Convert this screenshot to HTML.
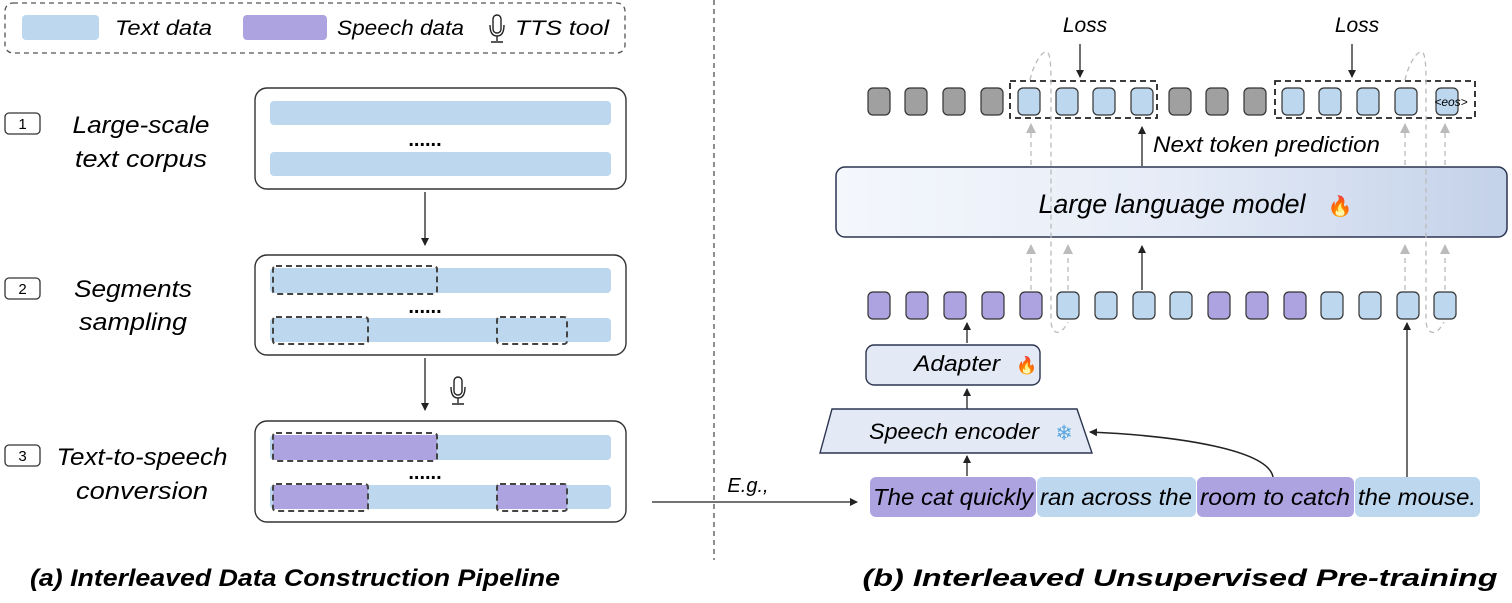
<!DOCTYPE html>
<html><head><meta charset="utf-8"><style>
html,body{margin:0;padding:0;background:#fff;}
svg{display:block;font-family:"Liberation Sans",sans-serif;}
.it{font-style:italic;}
</style></head><body>
<svg width="1512" height="603" viewBox="0 0 1512 603">
<defs>
<marker id="ah" markerWidth="8" markerHeight="8" refX="7" refY="4" orient="auto" markerUnits="userSpaceOnUse"><path d="M0,0 L8,4 L0,8 z" fill="#222"/></marker>
<marker id="ag" markerWidth="10" markerHeight="10" refX="9" refY="5" orient="auto" markerUnits="userSpaceOnUse"><path d="M0,0 L10,5 L0,10 z" fill="#bbb"/></marker>
<linearGradient id="llm" x1="0" x2="1"><stop offset="0" stop-color="#f4f7fc"/><stop offset="0.5" stop-color="#e6ecf7"/><stop offset="1" stop-color="#c3d1e9"/></linearGradient>
</defs>
<!-- legend -->
<rect x="5" y="3" width="620" height="50" rx="8" fill="none" stroke="#555" stroke-dasharray="5,4" stroke-width="1.3"/>
<rect x="22" y="15" width="77" height="25" rx="4" fill="#bcd7ee"/>
<text x="115" y="35" class="it" font-size="21" textLength="97" lengthAdjust="spacingAndGlyphs">Text data</text>
<rect x="243" y="15" width="84" height="25" rx="4" fill="#ada3e0"/>
<text x="337" y="35" class="it" font-size="21" textLength="127" lengthAdjust="spacingAndGlyphs">Speech data</text>
<g stroke="#222" stroke-width="1.4" fill="none"><rect x="493" y="15" width="8" height="18" rx="4"/><path d="M490,25 q0,11 7,11 q7,0 7,-11 M497,36 v5 M491,42 h12"/></g>
<text x="515" y="35" class="it" font-size="21" textLength="94" lengthAdjust="spacingAndGlyphs">TTS tool</text>
<!-- divider -->
<line x1="714" y1="0" x2="714" y2="560" stroke="#444" stroke-dasharray="5,4" stroke-width="1.2"/>
<!-- step 1 -->
<rect x="5" y="113" width="35" height="21" rx="4" fill="none" stroke="#333" stroke-width="1.3"/><text x="22.5" y="129" font-size="15" text-anchor="middle">1</text>
<text x="141" y="133" class="it" font-size="24" text-anchor="middle" textLength="137" lengthAdjust="spacingAndGlyphs">Large-scale</text>
<text x="141" y="167" class="it" font-size="24" text-anchor="middle" textLength="132" lengthAdjust="spacingAndGlyphs">text corpus</text>
<rect x="255" y="88" width="371" height="101" rx="12" fill="#fff" stroke="#333" stroke-width="1.4"/>
<rect x="270" y="101" width="341" height="24" rx="4" fill="#bcd7ee"/>
<text x="425" y="146" font-size="20" text-anchor="middle" font-weight="bold">......</text>
<rect x="270" y="152" width="341" height="24" rx="4" fill="#bcd7ee"/>
<line x1="425" y1="192" x2="425" y2="245" stroke="#222" stroke-width="1.3" marker-end="url(#ah)"/>
<!-- step 2 -->
<rect x="5" y="278" width="35" height="21" rx="4" fill="none" stroke="#333" stroke-width="1.3"/><text x="22.5" y="294" font-size="15" text-anchor="middle">2</text>
<text x="133" y="297" class="it" font-size="24" text-anchor="middle" textLength="118" lengthAdjust="spacingAndGlyphs">Segments</text>
<text x="133" y="330" class="it" font-size="24" text-anchor="middle" textLength="108" lengthAdjust="spacingAndGlyphs">sampling</text>
<rect x="255" y="255" width="371" height="100" rx="12" fill="#fff" stroke="#333" stroke-width="1.4"/>
<rect x="270" y="268" width="341" height="25" rx="4" fill="#bcd7ee"/>
<text x="425" y="313" font-size="20" text-anchor="middle" font-weight="bold">......</text>
<rect x="270" y="318" width="341" height="24" rx="4" fill="#bcd7ee"/>
<g fill="none" stroke="#444" stroke-width="2" stroke-dasharray="6,4">
<rect x="273" y="266" width="164" height="28" rx="3"/><rect x="273" y="317" width="95" height="27" rx="3"/><rect x="497" y="317" width="70" height="27" rx="3"/></g>
<line x1="425" y1="358" x2="425" y2="410" stroke="#222" stroke-width="1.3" marker-end="url(#ah)"/>
<g stroke="#222" stroke-width="1.4" fill="none"><rect x="454" y="377" width="8" height="18" rx="4"/><path d="M451,387 q0,11 7,11 q7,0 7,-11 M458,398 v5 M452,404 h12"/></g>
<!-- step 3 -->
<rect x="5" y="445" width="35" height="21" rx="4" fill="none" stroke="#333" stroke-width="1.3"/><text x="22.5" y="461" font-size="15" text-anchor="middle">3</text>
<text x="142" y="465" class="it" font-size="24" text-anchor="middle" textLength="171" lengthAdjust="spacingAndGlyphs">Text-to-speech</text>
<text x="142" y="499" class="it" font-size="24" text-anchor="middle" textLength="132" lengthAdjust="spacingAndGlyphs">conversion</text>
<rect x="255" y="421" width="371" height="101" rx="12" fill="#fff" stroke="#333" stroke-width="1.4"/>
<rect x="270" y="435" width="341" height="25" rx="4" fill="#bcd7ee"/>
<text x="425" y="479" font-size="20" text-anchor="middle" font-weight="bold">......</text>
<rect x="270" y="485" width="341" height="24" rx="4" fill="#bcd7ee"/>
<rect x="273" y="435" width="164" height="25" fill="#ada3e0"/><rect x="273" y="485" width="95" height="24" fill="#ada3e0"/><rect x="497" y="485" width="70" height="24" fill="#ada3e0"/>
<g fill="none" stroke="#444" stroke-width="2" stroke-dasharray="6,4">
<rect x="273" y="433" width="164" height="28" rx="3"/><rect x="273" y="484" width="95" height="27" rx="3"/><rect x="497" y="484" width="70" height="27" rx="3"/></g>
<!-- E.g. arrow -->
<line x1="652" y1="502" x2="857" y2="502" stroke="#222" stroke-width="1.3" marker-end="url(#ah)"/>
<text x="748" y="492" class="it" font-size="20" text-anchor="middle">E.g.,</text>
<!-- captions -->
<text x="295" y="586" class="it" font-weight="bold" font-size="24" text-anchor="middle" textLength="530" lengthAdjust="spacingAndGlyphs">(a) Interleaved Data Construction Pipeline</text>
<text x="1180" y="586" class="it" font-weight="bold" font-size="24" text-anchor="middle" textLength="635" lengthAdjust="spacingAndGlyphs">(b) Interleaved Unsupervised Pre-training</text>
<!-- top tokens -->
<g stroke="#333" stroke-width="1.2">
<rect x="868" y="88" width="22" height="27" rx="5" fill="#a0a0a0"/><rect x="905" y="88" width="22" height="27" rx="5" fill="#a0a0a0"/><rect x="943" y="88" width="22" height="27" rx="5" fill="#a0a0a0"/><rect x="981" y="88" width="22" height="27" rx="5" fill="#a0a0a0"/>
<rect x="1018" y="88" width="22" height="27" rx="5" fill="#bcd7ee"/><rect x="1056" y="88" width="22" height="27" rx="5" fill="#bcd7ee"/><rect x="1093" y="88" width="22" height="27" rx="5" fill="#bcd7ee"/><rect x="1131" y="88" width="22" height="27" rx="5" fill="#bcd7ee"/>
<rect x="1169" y="88" width="22" height="27" rx="5" fill="#a0a0a0"/><rect x="1206" y="88" width="22" height="27" rx="5" fill="#a0a0a0"/><rect x="1244" y="88" width="22" height="27" rx="5" fill="#a0a0a0"/>
<rect x="1282" y="88" width="22" height="27" rx="5" fill="#bcd7ee"/><rect x="1319" y="88" width="22" height="27" rx="5" fill="#bcd7ee"/><rect x="1357" y="88" width="22" height="27" rx="5" fill="#bcd7ee"/><rect x="1395" y="88" width="22" height="27" rx="5" fill="#bcd7ee"/><rect x="1436" y="88" width="22" height="27" rx="5" fill="#bcd7ee"/>
</g>
<text x="1451" y="106" class="it" font-size="12" text-anchor="middle">&lt;eos&gt;</text>
<g fill="none" stroke="#222" stroke-width="1.8" stroke-dasharray="6,4"><rect x="1010" y="81" width="147" height="37"/><rect x="1275" y="81" width="200" height="37"/></g>
<text x="1085" y="32" class="it" font-size="21" text-anchor="middle">Loss</text>
<text x="1357" y="32" class="it" font-size="21" text-anchor="middle">Loss</text>
<line x1="1080" y1="44" x2="1080" y2="77" stroke="#222" stroke-width="1.3" marker-end="url(#ah)"/>
<line x1="1352" y1="44" x2="1352" y2="77" stroke="#222" stroke-width="1.3" marker-end="url(#ah)"/>
<!-- LLM -->
<rect x="836" y="167" width="671" height="70" rx="9" fill="url(#llm)" stroke="#2b3550" stroke-width="1.5"/>
<text x="1172" y="213" class="it" font-size="27" text-anchor="middle" textLength="267" lengthAdjust="spacingAndGlyphs">Large language model</text>
<text x="1340" y="213" font-size="20" fill="#f07a1a" text-anchor="middle">🔥</text>
<text x="1153" y="152" class="it" font-size="22" textLength="227" lengthAdjust="spacingAndGlyphs">Next token prediction</text>
<line x1="1142" y1="166" x2="1142" y2="127" stroke="#222" stroke-width="1.3" marker-end="url(#ah)"/>
<line x1="1142" y1="290" x2="1142" y2="246" stroke="#222" stroke-width="1.3" marker-end="url(#ah)"/>
<!-- gray dashed arrows -->
<g stroke="#bbb" stroke-width="1.3" stroke-dasharray="5,4" marker-end="url(#ag)">
<line x1="1031" y1="165" x2="1031" y2="124"/><line x1="1405" y1="165" x2="1405" y2="124"/><line x1="1445" y1="165" x2="1445" y2="124"/>
<line x1="1031" y1="290" x2="1031" y2="245"/><line x1="1068" y1="290" x2="1068" y2="245"/><line x1="1405" y1="290" x2="1405" y2="245"/><line x1="1445" y1="290" x2="1445" y2="245"/>
</g>
<g fill="none" stroke="#bbb" stroke-width="1.3" stroke-dasharray="5,4">
<path d="M1030,80 C1034,62 1043,50 1047,52 C1051,54 1051,70 1051,90 L1051,320 C1051,334 1060,338 1068,322"/>
<path d="M1405,80 C1409,62 1418,50 1422,52 C1426,54 1426,70 1426,90 L1426,320 C1426,334 1436,338 1444,322"/>
</g>
<!-- bottom tokens -->
<g stroke="#333" stroke-width="1.2">
<rect x="868" y="292" width="22" height="27" rx="5" fill="#ada3e0"/><rect x="906" y="292" width="22" height="27" rx="5" fill="#ada3e0"/><rect x="944" y="292" width="22" height="27" rx="5" fill="#ada3e0"/><rect x="982" y="292" width="22" height="27" rx="5" fill="#ada3e0"/><rect x="1020" y="292" width="22" height="27" rx="5" fill="#ada3e0"/>
<rect x="1057" y="292" width="22" height="27" rx="5" fill="#bcd7ee"/><rect x="1095" y="292" width="22" height="27" rx="5" fill="#bcd7ee"/><rect x="1133" y="292" width="22" height="27" rx="5" fill="#bcd7ee"/><rect x="1170" y="292" width="22" height="27" rx="5" fill="#bcd7ee"/>
<rect x="1208" y="292" width="22" height="27" rx="5" fill="#ada3e0"/><rect x="1246" y="292" width="22" height="27" rx="5" fill="#ada3e0"/><rect x="1284" y="292" width="22" height="27" rx="5" fill="#ada3e0"/>
<rect x="1321" y="292" width="22" height="27" rx="5" fill="#bcd7ee"/><rect x="1359" y="292" width="22" height="27" rx="5" fill="#bcd7ee"/><rect x="1397" y="292" width="22" height="27" rx="5" fill="#bcd7ee"/><rect x="1434" y="292" width="22" height="27" rx="5" fill="#bcd7ee"/>
</g>
<!-- adapter / encoder -->
<line x1="967" y1="343" x2="967" y2="323" stroke="#222" stroke-width="1.3" marker-end="url(#ah)"/>
<rect x="866" y="345" width="174" height="40" rx="8" fill="#e3eaf6" stroke="#2b3550" stroke-width="1.4"/>
<text x="957" y="371" class="it" font-size="22" text-anchor="middle" textLength="86" lengthAdjust="spacingAndGlyphs">Adapter</text>
<text x="1027" y="371" font-size="17" text-anchor="middle">🔥</text>
<line x1="967" y1="409" x2="967" y2="389" stroke="#222" stroke-width="1.3" marker-end="url(#ah)"/>
<path d="M832,409 L1077,409 L1092,453 L820,453 z" fill="#e3eaf6" stroke="#2b3550" stroke-width="1.4"/>
<text x="954" y="439" class="it" font-size="22" text-anchor="middle" textLength="170" lengthAdjust="spacingAndGlyphs">Speech encoder</text>
<text x="1064" y="440" font-size="21" fill="#5aa7e0" text-anchor="middle">❄</text>
<line x1="967" y1="476" x2="967" y2="456" stroke="#222" stroke-width="1.3" marker-end="url(#ah)"/>
<path d="M1273,477 C1268,450 1180,436 1090,432" fill="none" stroke="#222" stroke-width="1.5" marker-end="url(#ah)"/>
<line x1="1407" y1="477" x2="1407" y2="323" stroke="#222" stroke-width="1.3" marker-end="url(#ah)"/>
<!-- sentence -->
<rect x="870" y="477" width="166" height="40" rx="6" fill="#ada3e0"/>
<rect x="1037" y="477" width="159" height="40" rx="6" fill="#bcd7ee"/>
<rect x="1197" y="477" width="157" height="40" rx="6" fill="#ada3e0"/>
<rect x="1355" y="477" width="125" height="40" rx="6" fill="#bcd7ee"/>
<g class="it" font-size="23" text-anchor="middle">
<text x="953" y="505" textLength="160" lengthAdjust="spacingAndGlyphs">The cat quickly</text><text x="1116" y="505" textLength="152" lengthAdjust="spacingAndGlyphs">ran across the</text><text x="1275" y="505" textLength="150" lengthAdjust="spacingAndGlyphs">room to catch</text><text x="1417" y="505" textLength="118" lengthAdjust="spacingAndGlyphs">the mouse.</text></g>
</svg>
</body></html>
